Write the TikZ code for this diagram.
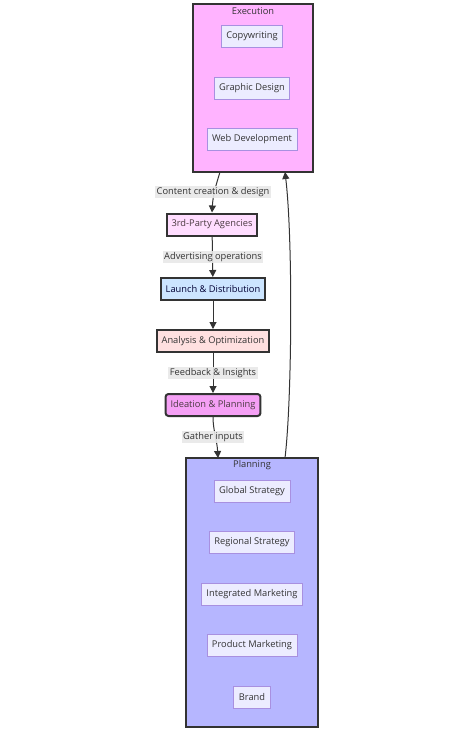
\documentclass[tikz,border=0pt]{standalone}
\usepackage{fontspec}
\setmainfont{Open Sans}
\usetikzlibrary{arrows.meta}
\definecolor{txt}{HTML}{333333}
\definecolor{execfill}{HTML}{FFB3FF}
\definecolor{planfill}{HTML}{B6B6FF}
\definecolor{innerfill}{HTML}{ECECFF}
\definecolor{innerdraw}{HTML}{A890E0}
\definecolor{agfill}{HTML}{FFDDFF}
\definecolor{lafill}{HTML}{CCE5FF}
\definecolor{anfill}{HTML}{FFE0E0}
\definecolor{idfill}{HTML}{F5A0F5}
\definecolor{lblfill}{HTML}{E8E8E8}
\begin{document}
\begin{tikzpicture}[x=1pt,y=-1pt,
  every node/.style={font=\fontsize{9.3}{11}\selectfont, text=txt},
  cluster/.style={draw=txt, line width=2pt, inner sep=0pt, anchor=north west},
  inner/.style={draw=innerdraw, fill=innerfill, line width=0.8pt, minimum height=22pt, inner xsep=5pt, inner ysep=0pt},
  mainbox/.style={draw=txt, line width=2pt, minimum height=22pt, inner xsep=5pt, inner ysep=0pt},
  lbl/.style={fill=lblfill, fill opacity=0.9, text opacity=1, inner sep=1.5pt},
  conn/.style={draw=txt, line width=1pt, -{Triangle[length=7pt,width=7pt]}}
]
\useasboundingbox (0,0) rectangle (474,733);
\fill[white] (0,0) rectangle (474,733);

% Execution cluster
\draw[cluster, fill=execfill] (193,4) rectangle (313,172);
\node (exec) at (253,88) [minimum width=120pt, minimum height=168pt, inner sep=0pt] {};
\node (exectitle) at (253,11) {Execution};
\node[inner] (copy) at (252,36) {Copywriting};
\node[inner] (graph) at (252,88) {Graphic Design};
\node[inner] (web) at (252,139) {Web Development};

% Planning cluster
\draw[cluster, fill=planfill] (186,458) rectangle (318,727);
\node (plan) at (252,592.5) [minimum width=132pt, minimum height=269pt, inner sep=0pt] {};
\node (plantitle) at (252,465) {Planning};
\node[inner] (glob) at (252,491) {Global Strategy};
\node[inner] (reg) at (252,542) {Regional Strategy};
\node[inner] (integ) at (252,594) {Integrated Marketing};
\node[inner] (prod) at (252,645) {Product Marketing};
\node[inner] (brand) at (252,697) {Brand};

% main chain
\node[mainbox, fill=agfill, text=black!70!magenta!60!black] (ag) at (212,224.5) {3rd-Party Agencies};
\node[mainbox, fill=lafill, text=black!60!blue!50!black] (la) at (213,289) {Launch \& Distribution};
\node[mainbox, fill=anfill] (an) at (213,341) {Analysis \& Optimization};
\node[mainbox, fill=idfill, rounded corners=3pt, text=black!70!magenta!60!black] (id) at (213,405) {Ideation \& Planning};

% connectors
\coordinate (e1) at (220,172);
\coordinate (p1) at (218,458);
\coordinate (p2) at (285,458);
\coordinate (e2) at (285,172);
\draw[conn] (e1) .. controls (216,185) and (213,195) .. (ag.north);
\node[lbl] (l1) at (213,192) {Content creation \& design};
\draw[conn] (ag) -- (la);
\node[lbl] (l2) at (213,257) {Advertising operations};
\draw[conn] (la) -- (an);
\draw[conn] (an) -- (id);
\node[lbl] (l3) at (213,373) {Feedback \& Insights};
\draw[conn] (id.south) .. controls (213,430) and (217,440) .. (p1);
\node[lbl] (l4) at (213,437) {Gather inputs};
\draw[conn] (p2) .. controls (292,400) and (293,240) .. (e2);
\end{tikzpicture}
\end{document}
